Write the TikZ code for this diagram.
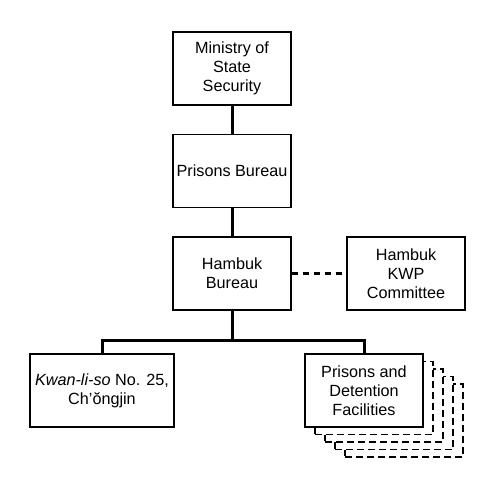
\documentclass[tikz,border=0pt]{standalone}
\usepackage{fontspec}
\setmainfont{Liberation Sans}
\begin{document}
\begin{tikzpicture}[x=1pt,y=-1pt,
  box/.style={draw,line width=1.4pt,fill=white,minimum width=118pt,minimum height=73pt,
    inner sep=2pt,align=center,font=\fontsize{16.2}{19}\selectfont},
  shadowbox/.style={draw,dash pattern=on 7pt off 4pt,line width=1.5pt,fill=white,
    minimum width=118pt,minimum height=73pt,inner sep=0pt},
  conn/.style={line width=3pt},
  dconn/.style={line width=3pt,dash pattern=on 6pt off 5pt}]
\useasboundingbox (0,0) rectangle (500,500);
\node[box] (ms) at (232,68.5) {Ministry of\\State\\Security};
\node[box] (pb) at (232,171) {Prisons Bureau};
\node[box] (hb) at (232,273.5) {Hambuk\\Bureau};
\node[box] (kwp) at (406,273.5) {Hambuk\\KWP\\Committee};
\node[box,minimum width=144pt] (kw) at (102,390.5) {\textit{Kwan-li-so} No. 25,\\Ch’ŏngjin};
\node[shadowbox] (s4) at (404,420.5) {};
\node[shadowbox] (s3) at (394,413) {};
\node[shadowbox] (s2) at (384,405.5) {};
\node[shadowbox] (s1) at (374,398) {};
\node[box] (pd) at (364,390.5) {Prisons and\\Detention\\Facilities};
\coordinate (bus) at (232,340);
\draw[conn] (ms.south) -- (pb.north);
\draw[conn] (pb.south) -- (hb.north);
\draw[conn] (hb.south) -- (bus);
\draw[conn] (kw.north) |- (bus) -| (pd.north);
\draw[dconn] (hb.east) -- (kwp.west);
\end{tikzpicture}
\end{document}
